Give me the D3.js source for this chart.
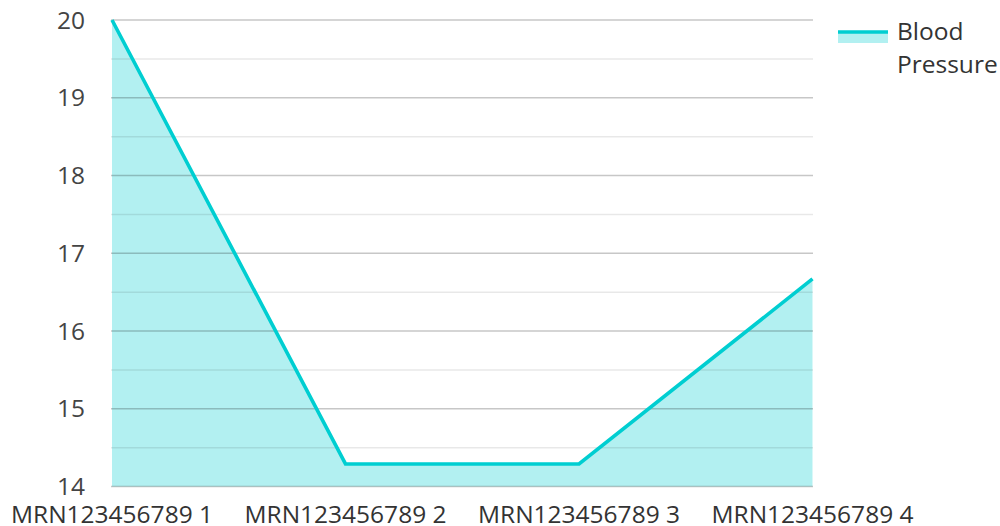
<!DOCTYPE html>
<html><head><meta charset="utf-8">
<script src="https://cdn.jsdelivr.net/npm/d3@7"></script>
<style>body{margin:0;background:#fff;}svg{display:block;font-family:"Open Sans",sans-serif;}</style>
</head><body><svg id="c" width="1000" height="526"></svg>
<script>
const categories = ["MRN123456789 1","MRN123456789 2","MRN123456789 3","MRN123456789 4"];
const bloodPressure = [20, 14.29, 14.29, 16.67];
const yTicks = [14,15,16,17,18,19,20];
const yMinorTicks = [14.5,15.5,16.5,17.5,18.5,19.5];
const seriesName = ["Blood","Pressure"];

const svg = d3.select("#c");
const x = d3.scalePoint().domain(categories).range([112, 812.5]);
const y = d3.scaleLinear().domain([14,20]).range([486.5, 20]);
const data = categories.map((c,i)=>({c, v: bloodPressure[i]}));

// area
svg.append("path").datum(data)
  .attr("fill","rgba(0,206,209,0.3)")
  .attr("d", d3.area().x(d=>x(d.c)).y0(y(14)).y1(d=>y(d.v)));

// grid
const g = svg.append("g");
g.selectAll(".minor").data(yMinorTicks).join("line")
  .attr("x1",111).attr("x2",813).attr("y1",d=>y(d)).attr("y2",d=>y(d))
  .attr("stroke","rgba(0,0,0,0.09)").attr("stroke-width",1.5);
g.selectAll(".major").data(yTicks).join("line")
  .attr("x1",111).attr("x2",813).attr("y1",d=>y(d)).attr("y2",d=>y(d))
  .attr("stroke","rgba(0,0,0,0.22)").attr("stroke-width",1.5);

// line
svg.append("path").datum(data)
  .attr("fill","none").attr("stroke","#00CED1").attr("stroke-width",3.6)
  .attr("stroke-linejoin","miter")
  .attr("d", d3.line().x(d=>x(d.c)).y(d=>y(d.v)));

// y labels
svg.append("g").selectAll("text").data(yTicks).join("text")
  .attr("x",85).attr("y",d=>y(d)).attr("dy","0.35em")
  .attr("text-anchor","end").attr("font-size",24.5).attr("fill","#444")
  .text(d=>d);

// x labels
svg.append("g").selectAll("text").data(categories).join("text")
  .attr("x",d=>x(d)).attr("y",523)
  .attr("text-anchor","middle").attr("font-size",24.5).attr("fill","#333")
  .text(d=>d);

// legend
const lg = svg.append("g");
lg.append("rect").attr("x",838).attr("y",31).attr("width",50).attr("height",12).attr("fill","rgba(0,206,209,0.3)");
lg.append("line").attr("x1",838).attr("x2",888).attr("y1",32).attr("y2",32).attr("stroke","#00CED1").attr("stroke-width",3.6);
lg.selectAll("text").data(seriesName).join("text")
  .attr("x",897).attr("y",(d,i)=>40+i*33)
  .attr("font-size",24.5).attr("fill","#333").text(d=>d);
</script></body></html>
